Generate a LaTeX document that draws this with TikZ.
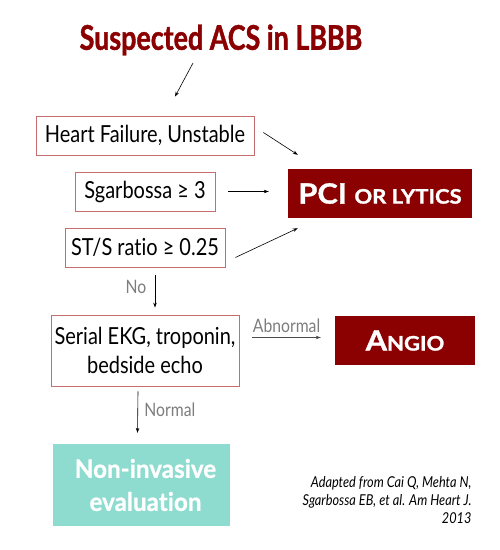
\documentclass[tikz,border=0pt]{standalone}
\usepackage{fontspec}
\setmainfont[FakeStretch=0.85, Ligatures=NoCommon]{Lato}
\newfontfamily\titlefont[FakeStretch=0.79, FakeBold=1.2]{Lato}
\newfontfamily\verdictfont[FakeStretch=1.1, FakeBold=1.2]{Lato}
\newfontfamily\evalfont[FakeStretch=0.95, FakeBold=0.8, Ligatures=NoCommon]{Lato}
\usetikzlibrary{positioning,arrows.meta}

\definecolor{acsred}{RGB}{139,0,0}
\definecolor{boxline}{RGB}{196,110,112}
\definecolor{evalteal}{RGB}{142,219,208}
\definecolor{labelgray}{RGB}{125,125,125}

\begin{document}
\begin{tikzpicture}[x=1pt, y=-1pt,
  choice/.style={draw=boxline, line width=0.8pt, inner sep=0pt, align=center,
    font=\fontsize{23.5}{29}\selectfont},
  verdict/.style={fill=acsred, text=white, inner sep=0pt,
    font=\verdictfont\bfseries\fontsize{28}{32}\selectfont},
  arr/.style={-{Stealth[length=5pt,width=3.5pt]}, line width=0.6pt},
  lbl/.style={text=labelgray, font=\fontsize{18.5}{22}\selectfont}]

\useasboundingbox (0,0) rectangle (500,550);

\node[text=acsred, font=\titlefont\bfseries\fontsize{34}{40}\selectfont] (title) at (221,40) {Suspected ACS in LBBB};

\node[choice, minimum width=218, minimum height=39] (hf) at (145,135.5) {Heart Failure, Unstable};
\node[choice, minimum width=140, minimum height=39] (sg) at (145,191.5) {Sgarbossa ≥ 3};
\node[choice, minimum width=160, minimum height=39] (sts) at (145,247.5) {ST/S ratio ≥ 0.25};
\node[choice, minimum width=188, minimum height=71] (serial) at (145,350.5) {Serial EKG, troponin,\\bedside echo};

\node[verdict, minimum width=184, minimum height=49] (pci) at (380,193.5) {PCI {\fontsize{20}{24}\selectfont OR LYTICS}};
\node[verdict, minimum width=140, minimum height=49] (angio) at (405,340.5) {A{\fontsize{20}{24}\selectfont NGIO}};
\node[fill=evalteal, text=white, inner sep=0pt, align=center, minimum width=177, minimum height=82,
  font=\evalfont\bfseries\fontsize{25.5}{33}\selectfont] (noninv) at (141.5,485) {\hspace*{8pt}Non-invasive\\\hspace*{8pt}evaluation};

\node[align=right, anchor=east, font=\itshape\fontsize{15}{18}\selectfont] (cite) at (475,500)
  {Adapted from Cai Q, Mehta N,\\Sgarbossa EB, et al. Am Heart J.\\2013};

\draw[arr] ([xshift=-28pt,yshift=-4pt]title.south) -- ([xshift=30pt,yshift=19pt]hf.north);
\draw[arr] ([xshift=9pt,yshift=3pt]hf.east) -- ([xshift=10pt,yshift=14pt]pci.north west);
\draw[arr, shorten <=13pt, shorten >=19pt] (sg.east) -- (sg.east -| pci.west);
\draw[arr] ([xshift=10pt,yshift=-10pt]sts.east) -- ([xshift=10pt,yshift=-10pt]pci.south west);
\draw[arr] ([xshift=10pt,yshift=-8pt]sts.south) -- ([xshift=10pt,yshift=7pt]serial.north)
  node[lbl, pos=0.35, left=5pt] {No};
\draw[arr, draw=black!70] ([xshift=13pt,yshift=13pt]serial.east) -- ([xshift=-14pt,yshift=3pt]angio.west)
  node[lbl, midway, above=1pt] {Abnormal};
\draw[arr] ([xshift=-7pt,yshift=-5pt]serial.south) -- ([xshift=-4pt,yshift=11pt]noninv.north)
  node[lbl, pos=0.45, right=3pt] {Normal};

\end{tikzpicture}
\end{document}
